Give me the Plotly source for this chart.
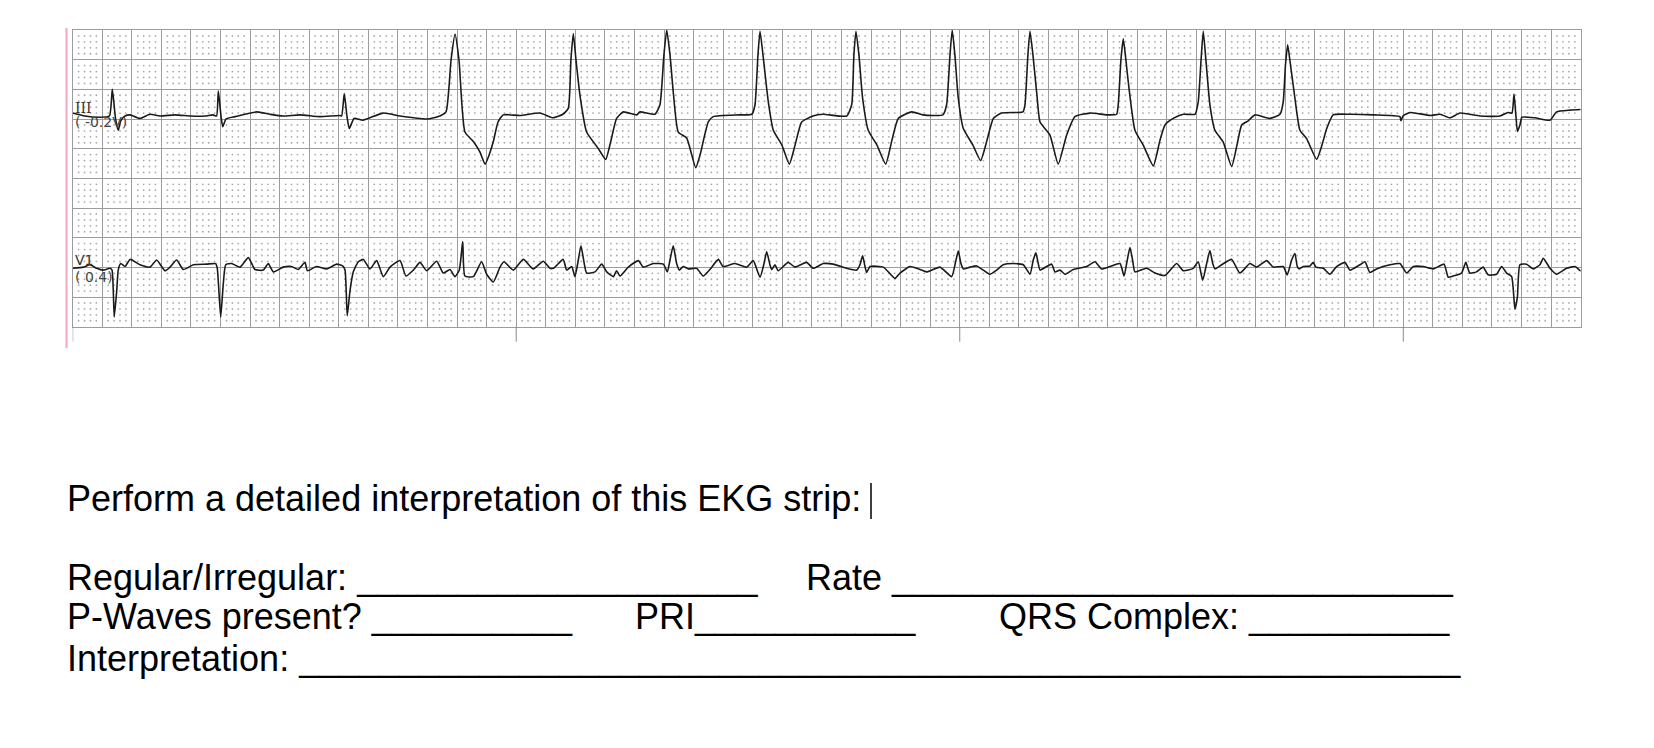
import numpy as np
import plotly.graph_objects as go

# ---------------- data read from the strip (time in s, amplitude in mV relative to lead baseline) ----
lead_III_points = [
    (0.000, 0.05), (0.083, 0.00), (0.185, -0.02), (0.248, 0.00), (0.268, 0.45), (0.289, -0.03),
    (0.308, -0.24), (0.325, -0.08), (0.354, 0.00), (0.388, 0.02), (0.455, -0.04), (0.523, 0.03),
    (0.591, 0.00), (0.692, 0.02), (0.800, 0.00), (0.895, 0.00), (0.949, 0.02), (0.973, 0.00),
    (0.985, 0.42), (1.003, 0.00), (1.015, -0.18), (1.037, -0.05), (1.098, -0.01), (1.245, 0.07),
    (1.334, 0.03), (1.422, 0.00), (1.537, 0.02), (1.673, -0.01), (1.808, 0.01), (1.819, 0.00),
    (1.837, 0.38), (1.855, 0.00), (1.871, -0.21), (1.903, -0.04), (1.963, -0.07), (2.099, 0.05),
    (2.214, 0.00), (2.396, -0.05), (2.484, 0.00),
    (2.525, 0.07), (2.559, 0.94), (2.586, 1.38), (2.613, 0.94), (2.653, -0.27), (2.710, -0.43),
    (2.755, -0.61), (2.789, -0.81), (2.816, -0.66), (2.845, -0.43), (2.877, -0.10), (2.912, 0.02),
    (3.025, 0.01), (3.161, 0.05), (3.249, -0.03), (3.316, 0.03),
    (3.352, 0.13), (3.370, 0.95), (3.386, 1.39), (3.404, 0.95), (3.431, 0.35), (3.476, -0.27),
    (3.553, -0.54), (3.605, -0.73), (3.641, -0.41), (3.679, -0.04), (3.724, 0.07), (3.815, 0.02),
    (3.837, 0.07), (3.938, 0.03),
    (3.972, 0.19), (3.999, 1.03), (4.018, 1.45), (4.040, 1.03), (4.062, 0.41), (4.096, -0.27),
    (4.153, -0.37), (4.214, -0.87), (4.243, -0.66), (4.299, -0.10), (4.333, -0.01), (4.513, 0.02),
    (4.594, 0.03),
    (4.615, 0.19), (4.635, 1.03), (4.649, 1.43), (4.669, 1.03), (4.705, 0.24), (4.739, -0.24),
    (4.797, -0.49), (4.847, -0.81), (4.886, -0.49), (4.931, -0.10), (5.007, 0.00), (5.075, 0.03),
    (5.235, 0.00),
    (5.269, 0.19), (5.284, 1.03), (5.298, 1.43), (5.318, 1.03), (5.343, 0.30), (5.381, -0.24),
    (5.440, -0.49), (5.499, -0.81), (5.541, -0.41), (5.584, -0.04), (5.675, 0.07), (5.751, 0.02),
    (5.886, 0.02),
    (5.911, 0.19), (5.934, 1.03), (5.949, 1.45), (5.967, 1.03), (5.990, 0.30), (6.024, -0.21),
    (6.089, -0.49), (6.141, -0.75), (6.184, -0.41), (6.227, -0.04), (6.283, 0.05), (6.385, 0.06),
    (6.427, 0.07),
    (6.441, 0.19), (6.461, 1.03), (6.475, 1.43), (6.495, 1.03), (6.522, 0.35), (6.543, -0.10),
    (6.610, -0.32), (6.666, -0.81), (6.723, -0.32), (6.779, -0.01), (6.881, 0.05), (6.994, 0.02),
    (7.061, 0.03),
    (7.072, 0.19), (7.090, 0.94), (7.106, 1.30), (7.124, 0.94), (7.140, 0.57), (7.185, -0.24),
    (7.241, -0.49), (7.309, -0.84), (7.354, -0.41), (7.388, -0.15), (7.444, -0.04), (7.512, 0.03),
    (7.591, 0.03),
    (7.613, 0.24), (7.632, 0.94), (7.647, 1.43), (7.665, 0.94), (7.692, 0.19), (7.726, -0.24),
    (7.782, -0.44), (7.839, -0.85), (7.875, -0.49), (7.907, -0.15), (7.951, -0.08), (7.997, 0.02),
    (8.098, -0.04), (8.166, 0.03),
    (8.188, 0.24), (8.203, 0.86), (8.218, 1.20), (8.233, 0.94), (8.267, 0.30), (8.301, -0.24),
    (8.346, -0.38), (8.414, -0.73), (8.450, -0.49), (8.482, -0.21), (8.526, 0.02), (8.639, 0.03),
    (8.797, 0.02), (8.977, -0.01), (8.984, -0.08), (8.998, 0.00), (9.045, 0.06), (9.181, 0.01),
    (9.249, 0.03), (9.316, -0.03), (9.384, 0.05), (9.519, 0.00), (9.654, 0.00), (9.708, 0.06),
    (9.735, 0.05), (9.749, 0.37), (9.762, 0.00), (9.772, -0.26), (9.789, -0.15), (9.803, -0.02),
    (9.891, -0.03), (9.992, -0.07), (10.037, 0.07), (10.127, 0.10), (10.200, 0.11),
]

lead_V1_points = [
    (0.000, 0.00), (0.072, 0.02), (0.117, 0.06), (0.162, 0.00), (0.207, -0.03), (0.252, 0.00),
    (0.266, -0.03), (0.281, -0.82), (0.298, -0.37), (0.308, -0.03), (0.325, 0.08), (0.354, 0.03),
    (0.388, 0.15), (0.455, 0.06), (0.523, 0.02), (0.568, 0.14), (0.624, -0.04), (0.658, 0.02),
    (0.703, 0.14), (0.748, -0.02), (0.816, 0.06), (0.906, 0.07), (0.967, 0.08), (0.978, 0.00),
    (1.001, -0.82), (1.019, -0.25), (1.035, 0.06), (1.075, 0.08), (1.132, 0.02), (1.188, 0.18),
    (1.233, -0.02), (1.289, -0.03), (1.323, 0.08), (1.357, -0.06), (1.424, 0.02), (1.481, 0.03),
    (1.526, -0.02), (1.571, 0.10), (1.587, -0.04), (1.650, 0.03), (1.718, -0.01), (1.786, 0.07),
    (1.826, 0.04), (1.842, -0.03), (1.857, -0.80), (1.876, -0.37), (1.898, -0.06), (1.932, 0.11),
    (1.966, 0.15), (2.011, -0.01), (2.056, 0.13), (2.101, -0.14), (2.146, 0.02), (2.214, 0.13),
    (2.254, -0.13), (2.304, -0.03), (2.349, 0.10), (2.394, -0.04), (2.462, 0.12), (2.507, -0.08),
    (2.552, -0.02), (2.586, -0.14), (2.615, -0.03), (2.638, 0.45), (2.653, -0.13), (2.710, -0.14),
    (2.766, 0.11), (2.800, -0.10), (2.845, -0.23), (2.890, 0.02), (2.917, 0.11), (2.980, -0.03),
    (3.048, 0.15), (3.115, -0.01), (3.183, 0.12), (3.228, 0.00), (3.251, 0.00), (3.318, 0.15),
    (3.341, -0.03), (3.375, 0.03), (3.397, -0.14), (3.420, 0.14), (3.438, 0.38), (3.460, 0.08),
    (3.476, -0.08), (3.533, -0.06), (3.578, 0.07), (3.612, -0.06), (3.657, -0.14), (3.679, -0.04),
    (3.702, -0.13), (3.758, 0.02), (3.826, 0.13), (3.859, 0.02), (3.927, 0.08), (3.995, 0.07),
    (4.022, -0.06), (4.040, 0.14), (4.062, 0.38), (4.085, 0.08), (4.103, -0.03), (4.130, 0.03),
    (4.164, -0.01), (4.220, 0.00), (4.265, -0.13), (4.310, -0.02), (4.367, 0.15), (4.400, 0.03),
    (4.479, 0.08), (4.559, 0.02), (4.603, 0.13), (4.649, -0.15), (4.676, 0.08), (4.694, 0.28),
    (4.716, 0.06), (4.728, -0.02), (4.750, 0.06), (4.772, -0.04), (4.840, 0.10), (4.885, 0.02),
    (4.964, 0.10), (5.009, 0.00), (5.077, 0.08), (5.144, 0.07), (5.235, 0.00), (5.303, -0.03),
    (5.325, 0.06), (5.343, 0.21), (5.359, 0.03), (5.370, -0.07), (5.393, 0.03), (5.483, 0.02),
    (5.562, -0.17), (5.596, -0.08), (5.663, 0.03), (5.709, 0.00), (5.776, -0.06), (5.866, 0.02),
    (5.945, -0.14), (5.972, 0.11), (5.990, 0.29), (6.008, 0.08), (6.024, -0.01), (6.069, 0.02),
    (6.114, 0.04), (6.159, -0.03), (6.204, -0.10), (6.249, -0.03), (6.294, 0.06), (6.362, 0.08),
    (6.430, 0.06), (6.475, -0.10), (6.497, 0.14), (6.515, 0.26), (6.531, 0.08), (6.543, -0.03),
    (6.588, 0.03), (6.622, 0.07), (6.644, -0.06), (6.678, -0.03), (6.712, -0.10), (6.768, -0.02),
    (6.858, 0.03), (6.914, 0.11), (6.960, -0.01), (7.016, 0.03), (7.084, 0.08), (7.111, -0.13),
    (7.133, 0.14), (7.151, 0.35), (7.169, 0.14), (7.185, -0.06), (7.264, 0.00), (7.320, -0.08),
    (7.388, -0.12), (7.467, 0.08), (7.512, -0.04), (7.579, 0.00), (7.613, 0.11), (7.643, -0.20),
    (7.670, 0.08), (7.692, 0.30), (7.711, 0.08), (7.726, -0.01), (7.771, 0.06), (7.839, 0.15),
    (7.895, -0.08), (7.963, 0.08), (8.008, 0.02), (8.076, 0.13), (8.120, 0.02), (8.188, 0.03),
    (8.215, -0.11), (8.245, 0.14), (8.267, 0.25), (8.283, 0.03), (8.297, -0.01), (8.323, 0.03),
    (8.369, 0.04), (8.391, 0.10), (8.409, 0.02), (8.459, 0.00), (8.504, -0.10), (8.549, 0.03),
    (8.605, 0.10), (8.639, -0.03), (8.707, 0.06), (8.741, 0.11), (8.774, -0.07), (8.819, -0.01),
    (8.910, 0.06), (8.977, 0.08), (9.023, -0.08), (9.068, 0.03), (9.135, 0.03), (9.203, -0.01),
    (9.276, 0.07), (9.304, -0.15), (9.338, -0.13), (9.394, -0.08), (9.423, 0.10), (9.450, -0.08),
    (9.495, -0.06), (9.540, 0.02), (9.574, -0.11), (9.631, -0.10), (9.665, 0.03), (9.699, -0.08),
    (9.733, -0.14), (9.755, -0.69), (9.772, -0.48), (9.789, 0.06), (9.834, 0.07), (9.879, -0.01),
    (9.924, 0.06), (9.947, 0.17), (9.992, 0.00), (10.037, -0.10), (10.104, 0.00), (10.161, 0.03),
    (10.200, -0.05),
]

III_t, III_mv = zip(*lead_III_points)
V1_t, V1_mv = zip(*lead_V1_points)

lead_names = ["III", "V1"]
lead_gain_labels = ["( -0.2V)", "( 0.4)"]
lead_baselines_mv = [3.55, 0.984]          # position of each lead on the 5 mV paper
second_marks = [0, 3, 6, 9]                # timing ticks below the paper (s)
strip_seconds = 10.2
paper_mv = 5.0

form_lines = [
    ("Perform a detailed interpretation of this EKG strip:", 65, 498),
    ("Regular/Irregular: " + "_" * 20, 65, 577),
    ("Rate " + "_" * 28, 804, 577),
    ("P-Waves present? " + "_" * 10, 65, 616),
    ("PRI" + "_" * 11, 633, 616),
    ("QRS Complex: " + "_" * 10, 997, 616),
    ("Interpretation: " + "_" * 58, 65, 658),
]

# ---------------- layout helpers (page pixel -> paper fraction) ----------------
FIG_W, FIG_H = 1638, 732
BODY = 8


def pxx(x):
    return (x - BODY) / FIG_W


def pxy(y):
    return 1 - (y - BODY) / FIG_H


GRID = "#9c9c9c"
INK = "#1a1a1a"

fig = go.Figure()

# small 1 mm dots of the ECG paper
dot_x = [round(i * 0.04, 3) for i in range(int(round(strip_seconds / 0.04)) + 1) if i % 5]
dot_y = [round(j * 0.1, 3) for j in range(int(round(paper_mv / 0.1)) + 1) if j % 5]
gx, gy = np.meshgrid(dot_x, dot_y)
fig.add_trace(go.Scatter(x=gx.ravel(), y=gy.ravel(), mode="markers",
                         marker=dict(size=1.8, color="#aaaaaa", line=dict(width=0)),
                         hoverinfo="skip", showlegend=False))

# leads
for t, mv, base in [(III_t, III_mv, lead_baselines_mv[0]), (V1_t, V1_mv, lead_baselines_mv[1])]:
    fig.add_trace(go.Scatter(x=list(t), y=[v + base for v in mv], mode="lines",
                             line=dict(color=INK, width=1.6, shape="spline", smoothing=0.5),
                             hoverinfo="skip", showlegend=False))

# tiny pink calibration markers on top edge
fig.add_trace(go.Scatter(x=[0.061, 0.128], y=[5.06, 5.06], mode="markers", cliponaxis=False,
                         marker=dict(symbol="triangle-down", size=5, color="#ef8fb3"),
                         hoverinfo="skip", showlegend=False))

fig.update_xaxes(domain=[pxx(72.7), pxx(1580.7)], range=[0, strip_seconds], tick0=0, dtick=0.2,
                 showgrid=True, gridcolor=GRID, gridwidth=1, zeroline=False,
                 showticklabels=False, ticks="", showline=True, mirror=True,
                 linecolor=GRID, linewidth=1, fixedrange=True)
fig.update_yaxes(domain=[pxy(326.7), pxy(30)], range=[0, paper_mv], tick0=0, dtick=0.5,
                 showgrid=True, gridcolor=GRID, gridwidth=1, zeroline=False,
                 showticklabels=False, ticks="", showline=True, mirror=True,
                 linecolor=GRID, linewidth=1, fixedrange=True)

shapes = []
# pink margin line at the left of the strip
shapes.append(dict(type="line", xref="paper", yref="paper", x0=pxx(66.5), x1=pxx(66.5),
                   y0=pxy(348), y1=pxy(28), line=dict(color="#f2a6c2", width=2)))
# second marks below the paper
for s in second_marks:
    shapes.append(dict(type="line", xref="x", yref="paper", x0=s, x1=s,
                       y0=pxy(326.7), y1=pxy(341.7), line=dict(color="#8a8a8a", width=1)))
# text cursor after the question
shapes.append(dict(type="line", xref="paper", yref="paper", x0=pxx(871), x1=pxx(871),
                   y0=pxy(519), y1=pxy(483), line=dict(color="black", width=1.5)))

annotations = []
# lead labels
label_y = [(3.69, 3.45), (1.12, 0.83)]
for name, gain, (yn, yg) in zip(lead_names, lead_gain_labels, label_y):
    annotations.append(dict(x=0, y=yn, xref="x", yref="y", text=name, showarrow=False,
                            xanchor="left", yanchor="middle",
                            font=dict(family="DejaVu Serif" if name == "III" else "DejaVu Sans",
                                      size=14, color="#333333")))
    annotations.append(dict(x=0, y=yg, xref="x", yref="y", text=gain, showarrow=False,
                            xanchor="left", yanchor="middle",
                            font=dict(family="DejaVu Sans", size=14, color="#444444")))

for txt, x, y in form_lines:
    annotations.append(dict(x=pxx(x), y=pxy(y), xref="paper", yref="paper", text=txt,
                            showarrow=False, xanchor="left", yanchor="middle",
                            font=dict(family="Liberation Sans, Arial, sans-serif", size=36,
                                      color="black")))

fig.update_layout(width=FIG_W, height=FIG_H, margin=dict(l=0, r=0, t=0, b=0),
                  paper_bgcolor="white", plot_bgcolor="white", showlegend=False,
                  hovermode=False, shapes=shapes, annotations=annotations)

fig.write_html("out.html")
